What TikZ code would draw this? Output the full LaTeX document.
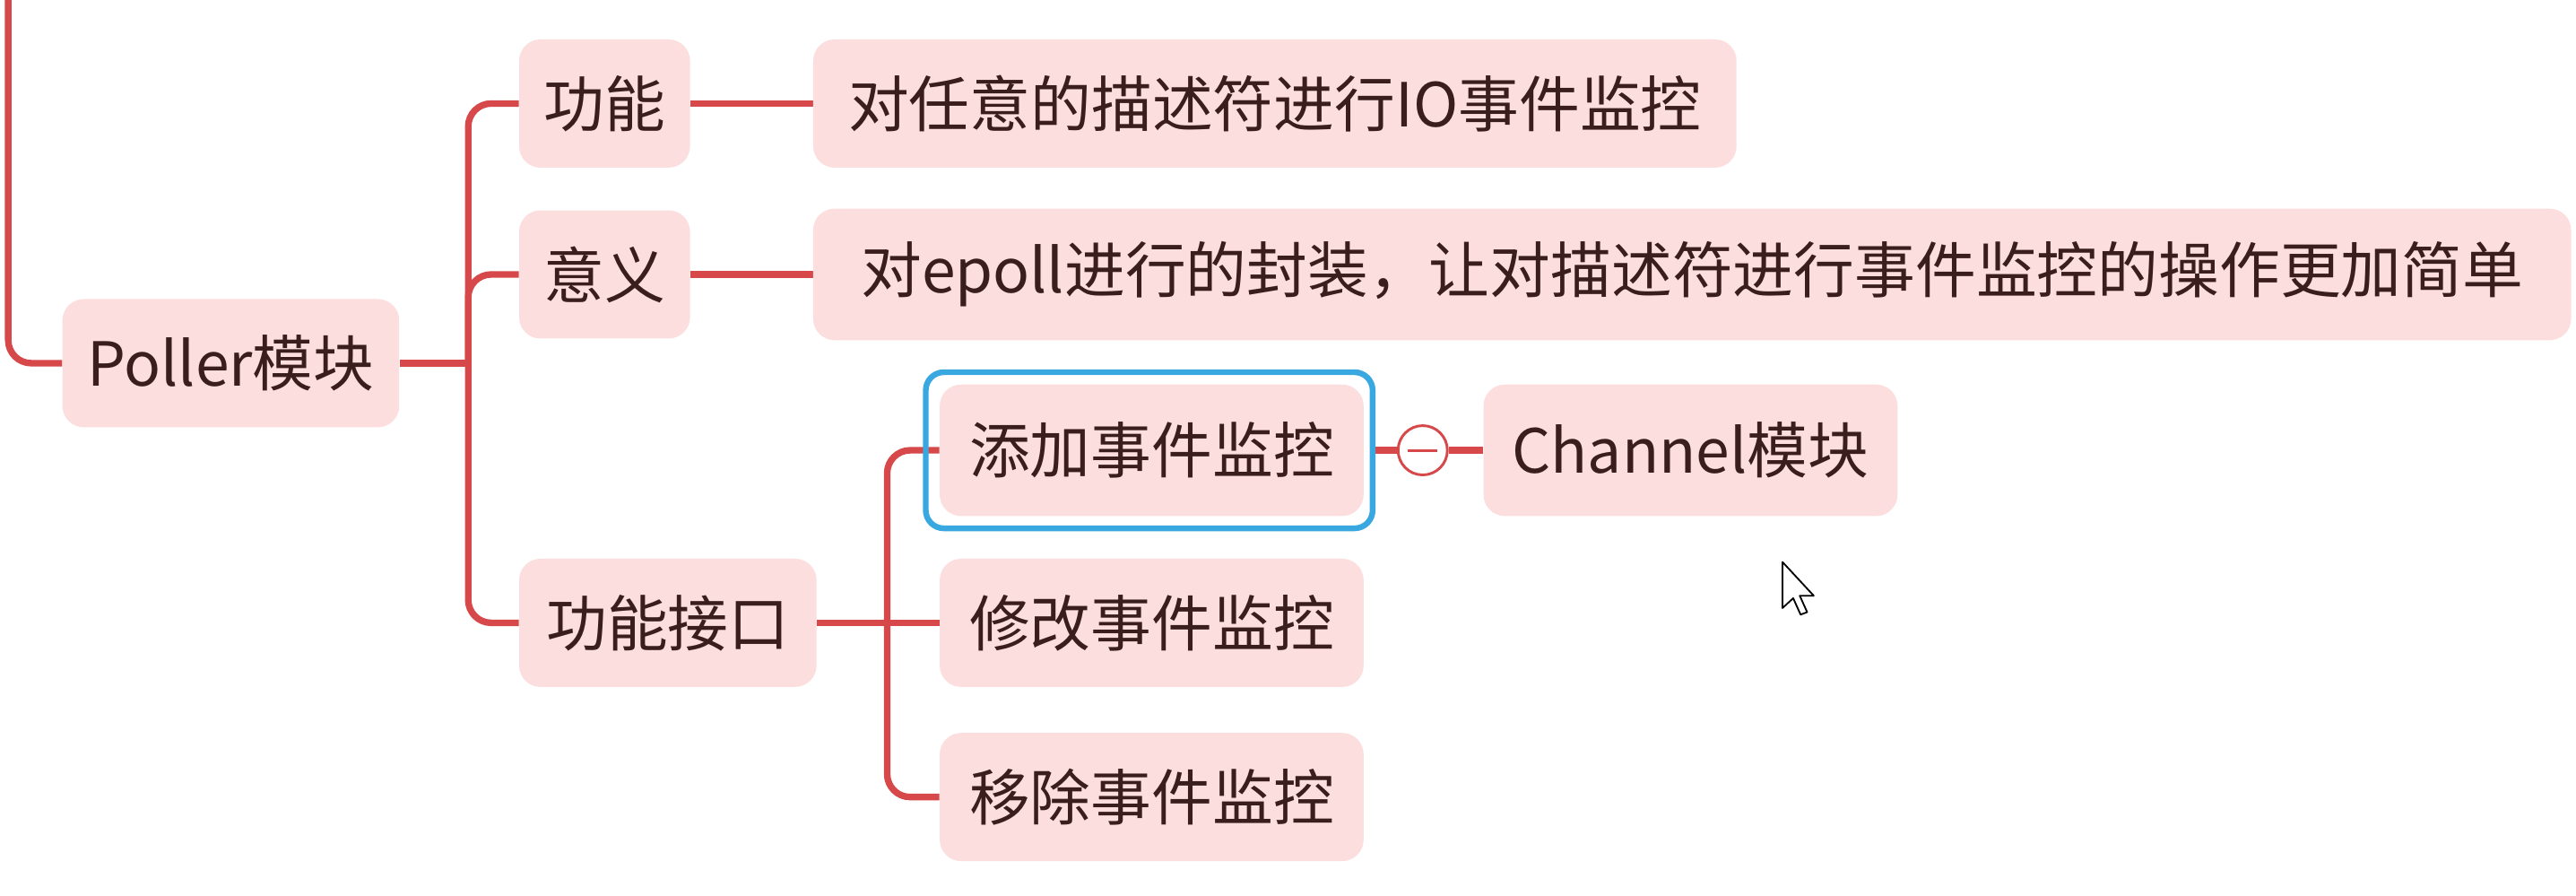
\documentclass[tikz,border=0pt]{standalone}
\usepackage{fontspec}
\newfontfamily\cjk{Noto Sans CJK SC}
\usetikzlibrary{backgrounds,calc}
\definecolor{linered}{RGB}{214,72,74}
\definecolor{boxpink}{RGB}{251,222,221}
\definecolor{txtdark}{RGB}{58,30,30}
\definecolor{selblue}{RGB}{58,168,224}
\tikzset{
  topic/.style={fill=boxpink, rounded corners=13pt, inner sep=0pt,
    minimum height=78pt, text=txtdark,
    font=\cjk\fontsize{37}{44}\selectfont},
  branch/.style={draw=linered, line width=4pt, rounded corners=14pt},
}
\begin{document}
\begin{tikzpicture}[x=1pt,y=-1pt]
\useasboundingbox (0,0) rectangle (1568,545);
% nodes
\node[topic, minimum width=205pt] (poller) at (140.5,221) {Poller模块};
\node[topic, minimum width=104pt] (gn) at (368,63) {功能};
\node[topic, minimum width=104pt] (yy) at (368,167) {意义};
\node[topic, minimum width=181pt] (jk) at (406.5,379) {功能接口};
\node[topic, minimum width=562pt] (d1) at (776,63) {对任意的描述符进行IO事件监控};
\node[topic, minimum width=1070pt, minimum height=80pt] (d2) at (1030,167) {对epoll进行的封装，让对描述符进行事件监控的操作更加简单};
\node[topic, minimum width=258pt, minimum height=80pt] (add) at (701,274) {添加事件监控};
\node[topic, minimum width=258pt] (mod) at (701,379) {修改事件监控};
\node[topic, minimum width=258pt] (rem) at (701,485) {移除事件监控};
\node[topic, minimum width=252pt, minimum height=80pt] (chan) at (1029,274) {Channel模块};
% selection frame
\node[draw=selblue, line width=3.5pt, rounded corners=11pt, fill=none,
  minimum width=272pt, minimum height=95pt] (sel) at (699.5,274) {};
% collapse circle
\node[circle, draw=linered, line width=1.6pt, fill=white, minimum size=30pt, inner sep=0pt] (fold) at (866,274) {};
\draw[linered, line width=1.6pt] ($(fold.center)+(-9,0)$) -- ($(fold.center)+(9,0)$);
% cursor
\draw[black, fill=white, line width=1pt, line join=round]
  (1085,342) -- (1085,370) -- (1091.5,364) -- (1096,374) -- (1100,372.5) -- (1095.5,362.5) -- (1104,362.5) -- cycle;
% connectors
\coordinate (topleft) at (5,-5);
\coordinate (j1) at (285,221);
\coordinate (j2) at (540,379);
\begin{pgfonlayer}{background}
\fill[white] (0,0) rectangle (1568,545);
\draw[branch] (topleft) |- (poller.west);
\draw[branch] (poller.east) -- (j1);
\draw[branch] (gn.west) -| (j1);
\draw[branch] (yy.west) -| (j1);
\draw[branch] (jk.west) -| (j1);
\draw[branch] (gn.east) -- (d1.west);
\draw[branch] (yy.east) -- (d2.west);
\draw[branch] (jk.east) -- (j2);
\draw[branch] (add.west) -| (j2);
\draw[branch] (mod.west) -- (j2);
\draw[branch] (rem.west) -| (j2);
\draw[branch] (sel.east) -- (fold.west);
\draw[branch] (fold.east) -- (chan.west);
\end{pgfonlayer}
\end{tikzpicture}
\end{document}
